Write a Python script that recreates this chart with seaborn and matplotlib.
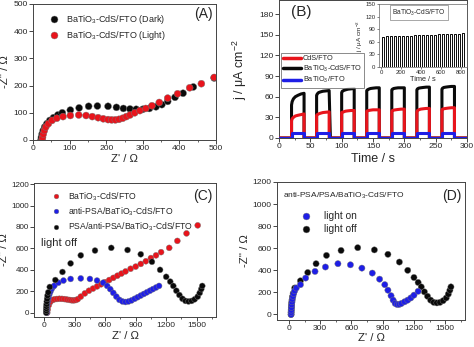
import numpy as np
import pandas as pd
import matplotlib
matplotlib.use("Agg")
import matplotlib.pyplot as plt
from matplotlib.ticker import MultipleLocator
import seaborn as sns

sns.set_style("ticks")
plt.rcParams['font.family'] = ['Liberation Sans', 'DejaVu Sans']
plt.rcParams['mathtext.fontset'] = 'custom'
plt.rcParams['mathtext.rm'] = 'Liberation Sans'
plt.rcParams['mathtext.it'] = 'Liberation Sans'

# ---------------- Panel A data ----------------
a_dark_x = [22, 23, 25, 28, 32, 38, 46, 56, 68, 80, 102, 126, 152, 176, 205, 228, 247, 265, 282,
            300, 318, 336, 352, 368, 388, 410, 438, 495]
a_dark_y = [0, 10, 22, 35, 48, 60, 72, 82, 92, 100, 110, 118, 124, 125, 124, 120, 116, 114, 113,
            113, 116, 122, 130, 142, 157, 172, 195, 228]
a_light_x = [25, 26, 28, 31, 35, 42, 52, 65, 82, 102, 125, 145, 162, 178, 192, 205, 215, 225, 235,
             245, 255, 265, 278, 292, 308, 325, 345, 368, 395, 428, 460, 495]
a_light_y = [0, 10, 22, 35, 48, 60, 72, 80, 86, 90, 92, 90, 86, 82, 78, 75, 74, 74, 76,
             80, 86, 92, 100, 108, 116, 126, 138, 154, 170, 192, 207, 230]
a_labels = ["BaTiO$_3$-CdS/FTO (Dark)", "BaTiO$_3$-CdS/FTO (Light)"]

# ---------------- Panel B data ----------------
b_on = [20, 60, 100, 140, 180, 220, 260]
b_off_red = [40, 80, 120, 160, 200, 240, 280]
b_off_black = [40, 82, 120, 160, 200, 240, 280]
b_off_blue = [40, 80, 120, 160, 200, 240, 280]
b_offsets = [0, 1, 3, 6, 10, 15, 20]
b_red_vals = [[25, 28, 30, 32, 33, 34, 35],
              [33, 34, 35, 36, 37, 37.5, 38],
              [37, 37.5, 38, 39, 39.5, 40, 40],
              [39, 39.5, 40, 40.5, 41, 41, 41],
              [39, 40, 40.5, 41, 41.5, 42, 42],
              [38, 40, 41, 42, 42.5, 43, 43],
              [41, 42, 42.5, 43, 43.5, 44, 44]]
b_black_vals = [[48, 53, 57, 60, 62, 64, 65],
                [62, 64, 66, 67, 68, 68.5, 69],
                [66, 68, 69, 70, 71, 71.5, 72],
                [69, 70, 71, 72, 72.5, 73, 73],
                [70, 71, 72, 72.5, 73, 73, 73],
                [70, 71.5, 72.5, 73, 73.5, 74, 74],
                [71, 72.5, 73.5, 74, 74.5, 75, 75]]
b_blue_vals = [[7, 7, 7, 7, 7, 7, 7]] * 7
b_labels = ["CdS/FTO", "BaTiO$_3$-CdS/FTO", "BaTiO$_3$/FTO"]

# inset
ins_on = [10, 50, 90, 130, 170, 210, 250, 290, 330, 370, 410, 450, 490, 530, 570, 610, 650, 690,
          730, 770, 810]
ins_peaks = [72, 73, 73, 74, 74, 75, 75, 75, 76, 76, 76, 77, 77, 77, 78, 78, 78, 79, 79, 79, 80]

# ---------------- Panel C data ----------------
c_red_x = [30, 35, 45, 60, 80, 100, 125, 150, 175, 200, 225, 250, 270, 290, 310, 330, 360, 400, 440,
           480, 520, 560, 600, 640, 680, 720, 760, 800, 850, 900, 950, 1000, 1050, 1100, 1150,
           1230, 1310, 1400, 1510]
c_red_y = [0, 30, 70, 100, 118, 125, 128, 130, 129, 127, 123, 119, 116, 115, 118, 126, 150, 180, 205,
           225, 245, 265, 285, 305, 325, 345, 365, 385, 410, 430, 455, 480, 510, 535, 565,
           605, 670, 740, 815]
c_blue_x = [25, 26, 28, 31, 35, 42, 50, 60, 72, 85, 100, 140, 190, 260, 360, 450, 520, 580, 620, 650,
            680, 710, 740, 770, 800, 830, 860, 890, 920, 950, 980, 1010, 1040, 1070, 1100, 1130]
c_blue_y = [0, 20, 45, 75, 105, 140, 170, 195, 220, 240, 252, 280, 300, 315, 320, 315, 300, 280, 250, 220,
            185, 150, 120, 105, 100, 105, 115, 130, 145, 160, 175, 190, 205, 220, 235, 250]
c_black_x = [20, 20, 21, 22, 24, 26, 29, 33, 40, 55, 110, 180, 260, 360, 500, 660, 820, 950, 1060,
             1140, 1200, 1240, 1270, 1300, 1330, 1360, 1390, 1420, 1450, 1480, 1510, 1530, 1545, 1555]
c_black_y = [0, 20, 40, 60, 80, 105, 130, 160, 190, 240, 305, 380, 460, 535, 580, 605, 585, 545, 475,
             400, 335, 290, 250, 205, 165, 130, 110, 105, 110, 125, 150, 185, 220, 250]
c_labels = ["BaTiO$_3$-CdS/FTO", "anti-PSA/BaTiO$_3$-CdS/FTO", "PSA/anti-PSA/BaTiO$_3$-CdS/FTO"]

# ---------------- Panel D data ----------------
d_on_x = [20, 21, 22, 24, 26, 29, 32, 38, 45, 55, 70, 110, 160, 250, 350, 470, 590, 700, 800, 870,
          920, 950, 980, 1000, 1020, 1040, 1060, 1080, 1110, 1140, 1170, 1200, 1240]
d_on_y = [0, 20, 40, 65, 90, 115, 140, 165, 190, 215, 240, 270, 330, 390, 430, 460, 450, 420, 375, 320,
          270, 220, 170, 130, 100, 90, 92, 100, 115, 130, 150, 175, 210]
d_off_x = c_black_x
d_off_y = c_black_y
d_labels = ["light on", "light off"]

BLACK = "#0a0a0a"
RED = "#e8141c"
BLUE = "#1e1ee6"

fig = plt.figure(figsize=(4.74, 3.47), dpi=100)
W, H = 474.0, 347.0


def add_ax(l, t, r, b):
    return fig.add_axes([l / W, 1 - b / H, (r - l) / W, (b - t) / H])


TICK = 6.1
LAB = 8.2


def style(ax):
    ax.tick_params(axis='both', which='major', labelsize=TICK, length=2.6, width=0.6, pad=1.2, direction='out')
    ax.tick_params(axis='both', which='minor', length=1.6, width=0.5, direction='out')
    for s in ax.spines.values():
        s.set_linewidth(0.7)
        s.set_color('#444444')


# ---------------- A ----------------
axA = add_ax(33, 4, 216, 140)
dfA = pd.concat([
    pd.DataFrame({"x": a_dark_x, "y": a_dark_y, "s": a_labels[0]}),
    pd.DataFrame({"x": a_light_x, "y": a_light_y, "s": a_labels[1]}),
])
sns.scatterplot(data=dfA, x="x", y="y", hue="s", palette=[BLACK, RED], s=25,
                edgecolor="#777777", linewidth=0.3, ax=axA)
axA.set_xlim(0, 500)
axA.set_ylim(0, 500)
axA.xaxis.set_major_locator(MultipleLocator(100))
axA.xaxis.set_minor_locator(MultipleLocator(50))
axA.yaxis.set_major_locator(MultipleLocator(100))
axA.set_xlabel("Z' / Ω", fontsize=LAB, labelpad=1)
axA.set_ylabel("-Z'' / Ω", fontsize=LAB)
axA.yaxis.set_label_coords(-0.125, 0.5)
axA.legend(loc='upper left', bbox_to_anchor=(0.03, 0.98), frameon=False, fontsize=6.5,
           handletextpad=0.4, borderpad=0.2, labelspacing=0.35, markerscale=1.0)
axA.text(0.93, 0.93, "(A)", transform=axA.transAxes, fontsize=10, ha='center', va='center')
style(axA)

# ---------------- B ----------------
axB = add_ax(279, 0.5, 467, 138)


def square_wave(on, off, offsets, vals, end):
    t, v = [0], [0]
    for o, f, pv in zip(on, off, vals):
        t.append(o); v.append(0)
        for d, val in zip(offsets, pv):
            tt = min(o + d, f)
            t.append(tt); v.append(val)
        t.append(f); v.append(0)
    t.append(end); v.append(0)
    return t, v


rt, rv = square_wave(b_on, b_off_red, b_offsets, b_red_vals, 300)
kt, kv = square_wave(b_on, b_off_black, b_offsets, b_black_vals, 300)
bt, bv = square_wave(b_on, b_off_blue, b_offsets, b_blue_vals, 300)
for t_, v_, c_, lab, z in [(kt, kv, BLACK, b_labels[1], 2), (rt, rv, RED, b_labels[0], 3),
                           (bt, bv, BLUE, b_labels[2], 4)]:
    sns.lineplot(x=t_, y=v_, sort=False, estimator=None, color=c_, lw=2.2, ax=axB, label=lab, zorder=z)
axB.set_xlim(0, 300)
axB.set_ylim(0, 200)
axB.xaxis.set_major_locator(MultipleLocator(50))
axB.xaxis.set_minor_locator(MultipleLocator(25))
axB.set_yticks([0, 30, 60, 90, 120, 150, 180])
axB.set_xlabel("Time / s", fontsize=LAB + 0.8, labelpad=2)
axB.set_ylabel("j / μA cm$^{-2}$", fontsize=LAB + 0.8)
axB.yaxis.set_label_coords(-0.16, 0.5)
h, l = axB.get_legend_handles_labels()
order = [l.index(x) for x in b_labels]
leg = axB.legend([h[i] for i in order], [l[i] for i in order], loc='upper left',
                 bbox_to_anchor=(0.01, 0.62), fontsize=5.3, frameon=True, fancybox=False,
                 handlelength=2.4, handletextpad=0.3, borderpad=0.3, labelspacing=0.2,
                 borderaxespad=0)
leg.get_frame().set_edgecolor('#555555')
leg.get_frame().set_linewidth(0.6)
for lh in leg.get_lines():
    lh.set_linewidth(2.5)
axB.text(0.12, 0.915, "(B)", transform=axB.transAxes, fontsize=11, ha='center', va='center')
style(axB)

# inset
axI = add_ax(379, 4, 467, 67)
it, iv = square_wave(ins_on, [o + 20 for o in ins_on], [0, 20], [[p, p] for p in ins_peaks], 860)
sns.lineplot(x=it, y=iv, sort=False, estimator=None, color=BLACK, lw=0.7, ax=axI)
axI.set_xlim(-20, 860)
axI.set_ylim(0, 150)
axI.set_xticks([0, 200, 400, 600, 800])
axI.set_yticks([0, 30, 60, 90, 120, 150])
axI.tick_params(labelsize=4.3, length=1.5, width=0.4, pad=1)
axI.set_xlabel("Time / s", fontsize=5.3, labelpad=0.5)
axI.set_ylabel("j / μA cm$^{-2}$", fontsize=4.6, labelpad=0.5)
for s in axI.spines.values():
    s.set_linewidth(0.5)
    s.set_color('#666666')
axI.text(0.45, 0.86, "BaTiO$_3$-CdS/FTO", transform=axI.transAxes, fontsize=4.8, ha='center', va='center',
         bbox=dict(boxstyle='square,pad=0.35', fc='white', ec='#666666', lw=0.4))

# ---------------- C ----------------
axC = add_ax(34, 183, 216, 317)
dfC = pd.concat([
    pd.DataFrame({"x": c_red_x, "y": c_red_y, "s": c_labels[0]}),
    pd.DataFrame({"x": c_blue_x, "y": c_blue_y, "s": c_labels[1]}),
    pd.DataFrame({"x": c_black_x, "y": c_black_y, "s": c_labels[2]}),
])
sns.scatterplot(data=dfC, x="x", y="y", hue="s", hue_order=c_labels, palette=[RED, BLUE, BLACK], s=18,
                edgecolor="#777777", linewidth=0.3, ax=axC)
axC.set_xlim(-100, 1690)
axC.set_ylim(-40, 1210)
axC.xaxis.set_major_locator(MultipleLocator(300))
axC.xaxis.set_minor_locator(MultipleLocator(150))
axC.yaxis.set_major_locator(MultipleLocator(200))
axC.set_xlabel("Z' / Ω", fontsize=LAB, labelpad=1)
axC.set_ylabel("-Z'' / Ω", fontsize=LAB)
axC.yaxis.set_label_coords(-0.135, 0.5)
axC.legend(loc='upper left', bbox_to_anchor=(0.04, 0.99), frameon=False, fontsize=6.2,
           handletextpad=0.4, borderpad=0.2, labelspacing=0.3, markerscale=0.8)
axC.text(0.93, 0.9, "(C)", transform=axC.transAxes, fontsize=10, ha='center', va='center')
axC.text(0.04, 0.55, "light off", transform=axC.transAxes, fontsize=8, ha='left', va='center')
style(axC)
axC.tick_params(axis='y', labelsize=5.8)

# ---------------- D ----------------
axD = add_ax(277, 182, 465, 320)
dfD = pd.concat([
    pd.DataFrame({"x": d_off_x, "y": d_off_y, "s": d_labels[1]}),
    pd.DataFrame({"x": d_on_x, "y": d_on_y, "s": d_labels[0]}),
])
sns.scatterplot(data=dfD, x="x", y="y", hue="s", hue_order=d_labels, palette=[BLUE, BLACK], s=20,
                edgecolor="#777777", linewidth=0.3, ax=axD)
axD.set_xlim(-115, 1690)
axD.set_ylim(-50, 1200)
axD.xaxis.set_major_locator(MultipleLocator(300))
axD.xaxis.set_minor_locator(MultipleLocator(150))
axD.yaxis.set_major_locator(MultipleLocator(200))
axD.set_xlabel("Z' / Ω", fontsize=LAB, labelpad=0.5)
axD.set_ylabel("-Z'' / Ω", fontsize=LAB)
axD.yaxis.set_label_coords(-0.145, 0.5)
axD.legend(loc='upper left', bbox_to_anchor=(0.06, 0.84), frameon=False, fontsize=7.3,
           handletextpad=0.8, borderpad=0.2, labelspacing=0.3, markerscale=1.1)
axD.text(0.03, 0.9, "anti-PSA/PSA/BaTiO$_3$-CdS/FTO", transform=axD.transAxes, fontsize=6.0,
         ha='left', va='center')
axD.text(0.93, 0.9, "(D)", transform=axD.transAxes, fontsize=10, ha='center', va='center')
style(axD)

fig.savefig("out.png", dpi=100)
